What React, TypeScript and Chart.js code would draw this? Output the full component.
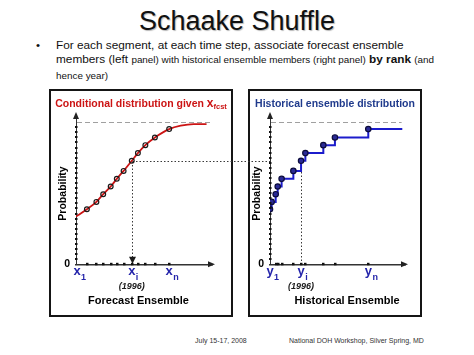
import React, { useEffect, useRef } from 'react';
import { Chart, registerables } from 'chart.js';

Chart.register(...registerables);

const FONT = '"Liberation Sans", Arial, Helvetica, sans-serif';

// ---------------- data ----------------
const rankProbability = [0.387, 0.439, 0.493, 0.547, 0.601, 0.657, 0.728, 0.782, 0.838, 0.892, 0.951];
const forecastMembers = [0.8, 1.5, 2.0, 2.55, 3.0, 3.5, 4.1, 4.55, 5.1, 5.8, 6.85];
const forecastCurveX = [0, 0.8, 1.5, 2.0, 2.55, 3.0, 3.5, 4.1, 4.55, 5.1, 5.8, 6.85, 7.7, 8.65, 9.6];
const forecastCurveP = [0.336, 0.387, 0.439, 0.493, 0.547, 0.601, 0.657, 0.728, 0.782, 0.838, 0.892, 0.951, 0.975, 0.986, 0.986];
const historicalMembers = [0, 0.12, 0.42, 0.57, 0.86, 1.73, 2.3, 2.62, 3.95, 4.81, 7.28];
const historicalStepEnd = 9.8;
const selectedRank = 6;
const selectedYear = '(1996)';
const probabilityTickLabels = ['0', '1'];
const memberLabelSubs = ['1', 'i', 'n'];

const RED = '#cc1414';
const BLUE_LINE = '#1c1ccc';
const BLUE_TEXT = '#2424aa';

type PanelCfg = {
  side: 'left' | 'right';
  members: number[];
  labelValues: number[];
  labelBase: string;
  axisTitle: string;
  axisTitleX: number;
  yTitleX: number;
  dashTo: number;
  downArrow: boolean;
};

const CANVAS_H = 228;
const X_AXIS_H = 52.7;
const Y_DOTS = 28;

function panelPlugin(cfg: PanelCfg) {
  return {
    id: 'panelDecor' + cfg.side,
    beforeDatasetsDraw(chart: any) {
      const { ctx, chartArea: ca, scales } = chart;
      const x = scales.x;
      const y = scales.y;
      ctx.save();
      // dashed reference at probability 1
      ctx.strokeStyle = '#a0a0a0';
      ctx.lineWidth = 1;
      ctx.setLineDash([5, 3]);
      const y1 = Math.round(y.getPixelForValue(1)) + 0.5;
      ctx.beginPath();
      ctx.moveTo(ca.left + 1, y1);
      ctx.lineTo(x.getPixelForValue(cfg.dashTo), y1);
      ctx.stroke();
      // dotted guides through the selected member
      const sx = Math.round(x.getPixelForValue(cfg.members[selectedRank])) + 0.5;
      const sy = Math.round(y.getPixelForValue(rankProbability[selectedRank])) + 0.5;
      ctx.strokeStyle = '#3a3a3a';
      ctx.setLineDash([1.5, 2]);
      ctx.beginPath();
      ctx.moveTo(sx, sy);
      ctx.lineTo(sx, ca.bottom - (cfg.downArrow ? 6 : 1));
      ctx.stroke();
      ctx.beginPath();
      if (cfg.side === 'left') {
        ctx.moveTo(sx, sy);
        ctx.lineTo(chart.width, sy);
      } else {
        ctx.moveTo(0, sy);
        ctx.lineTo(ca.left, sy);
      }
      ctx.stroke();
      ctx.setLineDash([]);
      if (cfg.downArrow) {
        ctx.fillStyle = '#1a1a1a';
        ctx.beginPath();
        ctx.moveTo(sx, ca.bottom - 0.5);
        ctx.lineTo(sx - 3.5, ca.bottom - 7.5);
        ctx.lineTo(sx + 3.5, ca.bottom - 7.5);
        ctx.closePath();
        ctx.fill();
      }
      ctx.restore();
    },
    afterDraw(chart: any) {
      const { ctx, chartArea: ca, scales } = chart;
      const x = scales.x;
      const y = scales.y;
      ctx.save();
      ctx.fillStyle = '#111';
      // tick dots on the probability axis
      for (let k = 1; k < Y_DOTS; k++) {
        const py = y.getPixelForValue(k / Y_DOTS);
        ctx.fillRect(ca.left - 1, Math.round(py) - 1, 2.5, 2);
      }
      // tick dots on the member axis
      cfg.members.forEach((m) => {
        const px = x.getPixelForValue(m);
        if (px > ca.left + 2) ctx.fillRect(Math.round(px) - 1, ca.bottom - 1.5, 2.5, 2.5);
      });
      // arrow heads
      ctx.fillStyle = '#222';
      ctx.beginPath();
      ctx.moveTo(ca.left, ca.top - 3);
      ctx.lineTo(ca.left - 3, ca.top + 4);
      ctx.lineTo(ca.left + 3, ca.top + 4);
      ctx.closePath();
      ctx.fill();
      ctx.beginPath();
      ctx.moveTo(ca.right + 3, ca.bottom);
      ctx.lineTo(ca.right - 4, ca.bottom - 3);
      ctx.lineTo(ca.right - 4, ca.bottom + 3);
      ctx.closePath();
      ctx.fill();
      // member labels with subscripts
      const base = 186;
      cfg.labelValues.forEach((v, i) => {
        const px = x.getPixelForValue(v) + (i === 0 && cfg.side === 'left' ? 1 : 0);
        ctx.fillStyle = BLUE_TEXT;
        ctx.font = `bold 13px ${FONT}`;
        ctx.textAlign = 'center';
        ctx.textBaseline = 'alphabetic';
        ctx.fillText(cfg.labelBase, px, base);
        const w = ctx.measureText(cfg.labelBase).width;
        ctx.font = `bold 9px ${FONT}`;
        ctx.textAlign = 'left';
        ctx.fillText(memberLabelSubs[i], px + w / 2 + 0.5, base + 4.5);
      });
      // year under the selected member
      ctx.fillStyle = '#1a1a1a';
      ctx.font = `italic bold 9px ${FONT}`;
      ctx.textAlign = 'center';
      ctx.fillText(selectedYear, x.getPixelForValue(cfg.members[selectedRank]), 199.5);
      // axis titles
      ctx.font = `bold 11px ${FONT}`;
      ctx.fillStyle = '#000';
      ctx.fillText(cfg.axisTitle, cfg.axisTitleX, 214.5);
      ctx.translate(cfg.yTitleX, 104.5);
      ctx.rotate(-Math.PI / 2);
      ctx.font = `bold 10.5px ${FONT}`;
      ctx.textBaseline = 'middle';
      ctx.fillText('Probability', 0, 0);
      ctx.restore();
    },
  };
}

function baseOptions(yWidth: number, padRight: number) {
  return {
    responsive: false,
    animation: false,
    events: [],
    layout: { padding: { left: 0, top: 26, right: padRight, bottom: 0 } },
    plugins: { legend: { display: false }, tooltip: { enabled: false }, title: { display: false } },
    scales: {
      x: {
        type: 'linear',
        min: 0,
        max: 10,
        afterFit: (s: any) => {
          s.height = X_AXIS_H;
        },
        grid: { display: false, drawTicks: false },
        border: { display: true, color: '#333', width: 1.5 },
        ticks: { display: false },
      },
      y: {
        type: 'linear',
        min: 0,
        max: 1.05,
        afterFit: (s: any) => {
          s.width = yWidth;
        },
        grid: { display: false, drawTicks: false },
        border: { display: true, color: '#333', width: 1 },
        ticks: {
          stepSize: 1,
          padding: 6,
          color: '#000',
          font: { family: FONT, size: 10.5, weight: 'bold' },
          callback: (v: number) => {
            if (Math.abs(v) < 1e-9) return probabilityTickLabels[0];
            if (Math.abs(v - 1) < 1e-9) return probabilityTickLabels[1];
            return '';
          },
        },
      },
    },
  };
}

function LeftPanel() {
  const ref = useRef<HTMLCanvasElement>(null);
  useEffect(() => {
    const chart = new Chart(ref.current as HTMLCanvasElement, {
      type: 'line',
      data: {
        datasets: [
          {
            data: forecastMembers.map((m, i) => ({ x: m, y: rankProbability[i] })),
            showLine: false,
            pointRadius: 2.4,
            pointBorderWidth: 1.2,
            pointBorderColor: '#1a1a1a',
            pointBackgroundColor: 'rgba(0,0,0,0)',
          },
          {
            data: forecastCurveX.map((v, i) => ({ x: v, y: forecastCurveP[i] })),
            borderColor: RED,
            borderWidth: 1.8,
            pointRadius: 0,
            cubicInterpolationMode: 'monotone',
            fill: false,
          },
        ],
      },
      options: baseOptions(27, 36) as any,
      plugins: [
        panelPlugin({
          side: 'left',
          members: forecastMembers,
          labelValues: [0, forecastMembers[selectedRank], forecastMembers[forecastMembers.length - 1]],
          labelBase: 'x',
          axisTitle: 'Forecast Ensemble',
          axisTitleX: 89.5,
          yTitleX: 14,
          dashTo: 9.9,
          downArrow: true,
        }),
      ],
    } as any);
    return () => chart.destroy();
  }, []);
  return (
    <canvas
      ref={ref}
      width={199}
      height={CANVAS_H}
      style={{ position: 'absolute', left: 49, top: 89, width: 199, height: CANVAS_H }}
    />
  );
}

function RightPanel() {
  const ref = useRef<HTMLCanvasElement>(null);
  useEffect(() => {
    const xs = [...historicalMembers, historicalStepEnd];
    const ps = [...rankProbability, rankProbability[rankProbability.length - 1]];
    const chart = new Chart(ref.current as HTMLCanvasElement, {
      type: 'line',
      data: {
        datasets: [
          {
            data: xs.map((v, i) => ({ x: v, y: ps[i] })),
            stepped: 'before',
            borderColor: BLUE_LINE,
            borderWidth: 2,
            pointRadius: xs.map((_, i) => (i < historicalMembers.length ? 2.7 : 0)),
            pointBorderWidth: 1.2,
            pointBorderColor: '#0c0c3c',
            pointBackgroundColor: '#2a2a95',
            fill: false,
          },
        ],
      },
      options: baseOptions(22, 19) as any,
      plugins: [
        panelPlugin({
          side: 'right',
          members: historicalMembers,
          labelValues: [
            historicalMembers[0],
            historicalMembers[selectedRank],
            historicalMembers[historicalMembers.length - 1],
          ],
          labelBase: 'y',
          axisTitle: 'Historical Ensemble',
          axisTitleX: 99,
          yTitleX: 9,
          dashTo: 9.75,
          downArrow: false,
        }),
      ],
    } as any);
    return () => chart.destroy();
  }, []);
  return (
    <canvas
      ref={ref}
      width={176}
      height={CANVAS_H}
      style={{ position: 'absolute', left: 248, top: 89, width: 176, height: CANVAS_H }}
    />
  );
}

export default function App() {
  const small: React.CSSProperties = { fontSize: 9.9 };
  return (
    <div
      style={{
        position: 'fixed',
        left: 0,
        top: 0,
        width: 474,
        height: 355,
        background: '#fff',
        fontFamily: FONT,
        color: '#111',
        overflow: 'hidden',
      }}
    >
      <div
        style={{
          position: 'absolute',
          left: 0,
          top: 4.6,
          width: 474,
          textAlign: 'center',
          fontSize: 27,
          lineHeight: '32px',
          textShadow: '1px 1px 1px #b8b8b8',
        }}
      >
        Schaake Shuffle
      </div>
      <div style={{ position: 'absolute', left: 36, top: 37.8, fontSize: 11.5, lineHeight: '14.5px' }}>•</div>
      <div
        style={{
          position: 'absolute',
          left: 56,
          top: 37.6,
          fontSize: 11.8,
          lineHeight: '14.5px',
          whiteSpace: 'nowrap',
        }}
      >
        For each segment, at each time step, associate forecast ensemble
        <br />
        members (left <span style={small}>panel) with historical ensemble members (right panel)</span>{' '}
        <b>by rank</b> <span style={small}>(and</span>
        <br />
        <span style={small}>hence year)</span>
      </div>

      <div
        style={{
          position: 'absolute',
          left: 49,
          top: 89,
          width: 184,
          height: 228,
          border: '2px solid #151515',
          boxSizing: 'border-box',
        }}
      />
      <div
        style={{
          position: 'absolute',
          left: 248,
          top: 89,
          width: 174,
          height: 228,
          border: '2px solid #151515',
          boxSizing: 'border-box',
        }}
      />

      <LeftPanel />
      <RightPanel />

      <div
        style={{
          position: 'absolute',
          left: 49,
          top: 96,
          width: 184,
          textAlign: 'center',
          fontSize: 10.5,
          lineHeight: '14px',
          fontWeight: 'bold',
          color: RED,
          whiteSpace: 'nowrap',
        }}
      >
        Conditional distribution given <span style={{ fontSize: 12 }}>x</span>
        <sub style={{ fontSize: 7.5, verticalAlign: '-2px' }}>fcst</sub>
      </div>
      <div
        style={{
          position: 'absolute',
          left: 248,
          top: 96,
          width: 174,
          textAlign: 'center',
          fontSize: 10.5,
          lineHeight: '14px',
          fontWeight: 'bold',
          color: '#1f3a8c',
          whiteSpace: 'nowrap',
        }}
      >
        Historical ensemble distribution
      </div>

      <div style={{ position: 'absolute', left: 195, top: 336, fontSize: 7, lineHeight: '10px', color: '#333' }}>
        July 15-17, 2008
      </div>
      <div style={{ position: 'absolute', left: 289, top: 336, fontSize: 7, lineHeight: '10px', color: '#333' }}>
        National DOH Workshop, Silver Spring, MD
      </div>
    </div>
  );
}
